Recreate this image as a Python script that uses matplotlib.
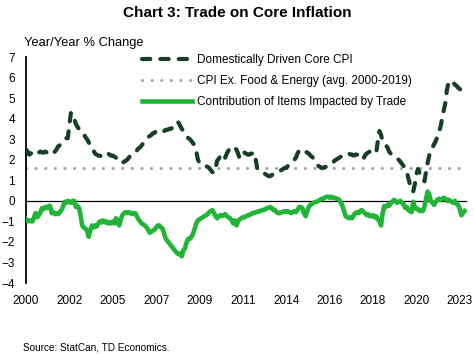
import matplotlib
matplotlib.use("Agg")
import matplotlib.pyplot as plt
import numpy as np

plt.rcParams['font.family'] = ['Liberation Sans', 'DejaVu Sans']

title = "Chart 3: Trade on Core Inflation"
y_label = "Year/Year % Change"
source = "Source: StatCan, TD Economics."
series_names = ["Domestically Driven Core CPI",
                "CPI Ex. Food & Energy (avg. 2000-2019)",
                "Contribution of Items Impacted by Trade"]
tick_labels = ["2000", "2002", "2005", "2007", "2009", "2011",
               "2014", "2016", "2018", "2020", "2023"]
tick_step = 27  # months between category labels

domestic_core = [
    2.5, 2.4, 2.25, 2.3, 2.4, 2.4,
    2.35, 2.4, 2.35, 2.4, 2.35, 2.35,
    2.4, 2.35, 2.3, 2.25, 2.25, 2.3,
    2.4, 2.5, 2.65, 2.7, 2.8, 2.9,
    2.95, 3.05, 3.05, 3.7, 4.3, 4.2,
    4.0, 3.75, 3.6, 3.5, 3.45, 3.4,
    3.25, 3.1, 3.0, 2.85, 2.7, 2.6,
    2.45, 2.3, 2.25, 2.2, 2.2, 2.15,
    2.15, 2.2, 2.3, 2.3, 2.25, 2.2,
    2.2, 2.15, 2.1, 1.95, 1.9, 1.85,
    1.85, 1.9, 1.95, 2.0, 2.1, 2.2,
    2.25, 2.3, 2.4, 2.45, 2.55, 2.6,
    2.7, 2.8, 2.9, 3.0, 3.1, 3.15,
    3.2, 3.3, 3.3, 3.4, 3.45, 3.45,
    3.4, 3.4, 3.4, 3.45, 3.45, 3.5,
    3.5, 3.55, 3.6, 3.7, 3.85, 3.8,
    3.65, 3.5, 3.4, 3.3, 3.15, 3.05,
    3.0, 2.9, 2.8, 2.7, 2.4, 2.0,
    1.85, 1.8, 1.8, 1.75, 1.7, 1.65,
    1.6, 1.5, 1.4, 1.35, 1.6, 1.95,
    2.05, 2.2, 2.3, 2.15, 2.1, 2.3,
    2.45, 2.5, 2.6, 2.65, 2.55, 2.5,
    2.3, 2.05, 2.1, 2.25, 2.35, 2.3,
    2.25, 2.25, 2.3, 2.3, 2.35, 2.0,
    1.55, 1.5, 1.45, 1.4, 1.35, 1.3,
    1.25, 1.2, 1.2, 1.25, 1.3, 1.3,
    1.35, 1.4, 1.45, 1.5, 1.55, 1.6,
    1.6, 1.7, 1.75, 1.85, 1.9, 2.0,
    2.1, 2.3, 2.45, 2.5, 2.45, 2.4,
    2.4, 2.35, 2.3, 2.2, 2.15, 2.05,
    1.95, 1.8, 1.7, 1.65, 1.6, 1.6,
    1.65, 1.65, 1.7, 1.75, 1.8, 1.85,
    1.95, 2.0, 2.05, 2.1, 2.15, 2.15,
    2.2, 2.25, 2.3, 2.3, 2.25, 2.25,
    2.2, 2.25, 2.25, 2.2, 2.1, 2.0,
    2.05, 2.2, 2.3, 2.35, 2.4, 2.45,
    2.4, 2.35, 2.35, 2.9, 3.4, 3.2,
    2.9, 2.8, 2.7, 2.6, 2.4, 2.3,
    2.2, 2.15, 2.1, 2.05, 2.0, 1.9,
    1.8, 1.7, 1.6, 1.45, 1.1, 0.8,
    0.5, 0.45, 0.8, 1.3, 1.55, 1.35,
    1.2, 1.05, 0.95, 1.4, 1.85, 2.2,
    2.5, 2.6, 2.75, 2.9, 3.1, 3.3,
    3.6, 4.0, 4.4, 4.75, 5.4, 5.75,
    5.85, 5.8, 5.75, 5.65, 5.6, 5.5,
    5.45, 5.3, 5.15, 5.0,
]

trade_items = [
    -0.9, -1.0, -0.95, -1.0, -1.0, -0.8,
    -0.6, -0.8, -0.7, -0.55, -0.35, -0.4,
    -0.3, -0.35, -0.25, -0.25, -0.6, -0.55,
    -0.65, -0.6, -0.65, -0.55, -0.45, -0.3,
    -0.05, -0.1, 0.0, -0.05, -0.1, 0.0,
    0.0, -0.3, -0.25, -0.35, -0.7, -1.2,
    -1.3, -1.35, -1.45, -1.75, -1.45, -1.2,
    -1.3, -1.2, -1.25, -1.1, -1.0, -1.05,
    -0.95, -1.05, -1.0, -1.1, -1.05, -1.1,
    -1.0, -1.1, -0.85, -1.0, -1.2, -0.9,
    -0.7, -0.6, -0.55, -0.6, -0.55, -0.6,
    -0.65, -0.6, -0.6, -0.75, -0.9, -1.0,
    -1.1, -1.15, -1.2, -1.3, -1.4, -1.55,
    -1.5, -1.45, -1.4, -1.3, -1.2, -1.2,
    -1.3, -1.35, -1.6, -1.85, -1.95, -2.05,
    -2.15, -2.25, -2.35, -2.45, -2.55, -2.6,
    -2.55, -2.7, -2.4, -2.3, -2.0, -1.85,
    -1.85, -1.75, -1.6, -1.35, -1.1, -0.95,
    -0.9, -0.85, -0.8, -0.75, -0.7, -0.65,
    -0.55, -0.5, -0.45, -0.6, -0.75, -0.85,
    -0.75, -0.7, -0.75, -0.7, -0.65, -0.75,
    -0.8, -0.85, -0.95, -1.1, -0.95, -1.2,
    -1.0, -0.9, -0.85, -0.8, -0.8, -0.75,
    -0.7, -0.7, -0.65, -0.6, -0.6, -0.55,
    -0.55, -0.5, -0.5, -0.45, -0.45, -0.4,
    -0.35, -0.35, -0.3, -0.35, -0.45, -0.45,
    -0.55, -0.6, -0.6, -0.55, -0.55, -0.5,
    -0.55, -0.5, -0.55, -0.6, -0.55, -0.5,
    -0.55, -0.45, -0.3, -0.3, -0.35, -0.6,
    -0.75, -0.5, -0.3, -0.2, -0.15, -0.1,
    -0.05, -0.05, 0.0, 0.05, 0.1, 0.1,
    0.15, 0.2, 0.2, 0.15, 0.2, 0.15,
    0.15, 0.1, 0.1, 0.05, -0.1, -0.25,
    -0.5, -0.75, -0.8, -0.85, -0.8, -0.85,
    -0.7, -0.6, -0.55, -0.6, -0.5, -0.45,
    -0.55, -0.6, -0.7, -0.65, -0.75, -0.75,
    -0.7, -0.8, -0.75, -0.9, -1.0, -1.2,
    -0.6, -0.25, -0.3, -0.2, -0.25, -0.1,
    -0.05, 0.05, 0.0, -0.1, -0.05, 0.0,
    -0.1, -0.15, -0.35, -0.3, -0.45, -0.5,
    -0.55, -0.05, -0.3, -0.4, -0.4, -0.5,
    -0.45, -0.5, -0.3, 0.1, 0.45, 0.3,
    0.0, -0.1, -0.2, -0.05, 0.05, 0.1,
    0.05, 0.1, 0.15, 0.1, 0.0, 0.05,
    0.0, -0.05, -0.1, 0.0, -0.15, -0.2,
    -0.4, -0.7, -0.6, -0.5,
]

core_avg_value = 1.6
n = len(domestic_core)
x = np.arange(n)
core_avg = [core_avg_value] * n

fig = plt.figure(figsize=(4.74, 3.54), dpi=100)
ax = fig.add_axes([26/474, 1-283/354, 441/474, 226/354])

dark = '#173f26'
green = '#22b436'
gray = '#a6a6a6'

ax.axhline(0, color='black', lw=0.9, zorder=1)
ax.plot(x, core_avg, color=gray, lw=2.3, linestyle=(0, (0.01, 3.0)),
        dash_capstyle='round', label=series_names[1], zorder=2)
ax.plot(x, trade_items, color=green, lw=3.3, solid_joinstyle='round',
        label=series_names[2], zorder=3)
ax.plot(x, domestic_core, color=dark, lw=3.0, linestyle=(0, (2.0, 2.4)),
        dash_capstyle='round', label=series_names[0], zorder=4)

ax.set_xlim(0, n + 0.5)
ax.set_ylim(-4, 7)
ax.set_yticks(range(-4, 8))
ax.set_xticks(x[::tick_step][:len(tick_labels)])
ax.set_xticklabels(tick_labels)
for s in ['top', 'right', 'bottom']:
    ax.spines[s].set_visible(False)
ax.spines['left'].set_linewidth(1.3)
ax.tick_params(axis='y', length=0, pad=8, labelsize=8.5)
ax.tick_params(axis='x', length=0, pad=9, labelsize=8.5)
for lab in ax.get_yticklabels():
    lab.set_horizontalalignment('right')

handles, labels = ax.get_legend_handles_labels()
order = [2, 0, 1]
leg = fig.legend([handles[i] for i in order], [labels[i] for i in order],
                 loc='upper left', bbox_to_anchor=(142/474, 1-54/354),
                 frameon=False, fontsize=8.5, handlelength=4.2,
                 handletextpad=0.45, labelspacing=0.75, borderpad=0,
                 borderaxespad=0)

fig.text(237/474, 1-13/354, title, ha='center', va='center',
         fontsize=11, fontweight='bold')
fig.text(24/474, 1-43/354, y_label, ha='left', va='center', fontsize=9.3)
fig.text(23/474, 1-348/354, source, ha='left', va='center', fontsize=7.2)

fig.savefig('out.png', dpi=100)
